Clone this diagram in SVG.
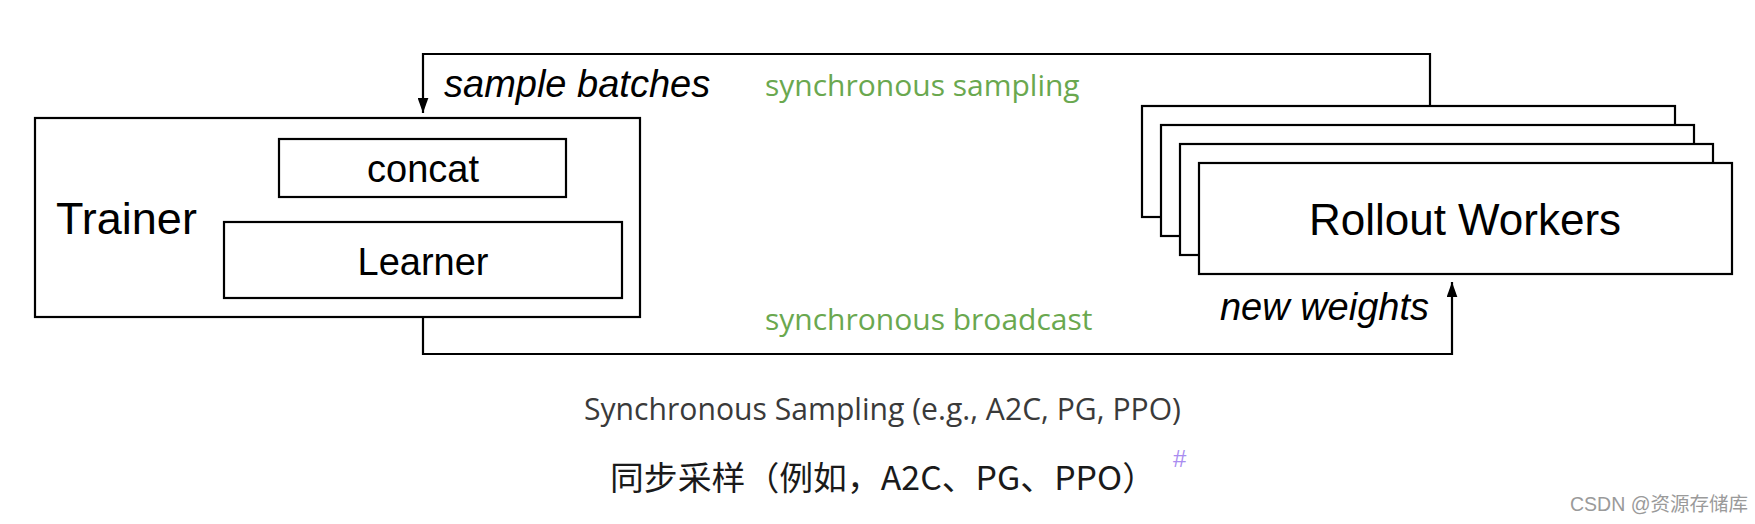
<svg xmlns="http://www.w3.org/2000/svg" width="1755" height="524" viewBox="0 0 1755 524">
<style>
.box{fill:#fff;stroke:#000;stroke-width:2.2}
.ln{fill:none;stroke:#000;stroke-width:2.2}
.lbl{font-family:"Liberation Sans",Arial,sans-serif;fill:#000}
.it{font-family:"Liberation Sans",Arial,sans-serif;font-style:italic;font-size:38px;fill:#000}
.grn{font-family:"Open Sans","Liberation Sans",sans-serif;font-size:30px;fill:#6aa84f}
</style>
<defs>
<marker id="ah2" viewBox="0 0 14 10" refX="14" refY="5" markerWidth="15" markerHeight="11" markerUnits="userSpaceOnUse" orient="auto">
<path d="M0,0 L14,5 L0,10 z" fill="#000"/>
</marker>
</defs>
<rect width="1755" height="524" fill="#fff"/>
<g id="connectors">
<path class="ln" d="M1430,106 V54 H423 V113" marker-end="url(#ah2)"/>
<path class="ln" d="M423,197 V222"/>
<path class="ln" d="M423,298 V354 H1452 V282" marker-end="url(#ah2)"/>
<text class="it" x="444" y="97">sample batches</text>
<text class="it" x="1429" y="320" text-anchor="end">new weights</text>
<text class="grn" x="765" y="96">synchronous sampling</text>
<text class="grn" x="765" y="330">synchronous broadcast</text>
</g>
<g id="trainer">
<rect class="box" x="35" y="118" width="605" height="199"/>
<text class="lbl" x="56" y="234" font-size="45">Trainer</text>
</g>
<g id="concat">
<rect class="box" x="279" y="139" width="287" height="58"/>
<text class="lbl" x="423" y="182" font-size="38" text-anchor="middle">concat</text>
</g>
<g id="learner">
<rect class="box" x="224" y="222" width="398" height="76"/>
<text class="lbl" x="423" y="275" font-size="38" text-anchor="middle">Learner</text>
</g>
<g id="rollout-workers">
<rect class="box" x="1142" y="106" width="533" height="111"/>
<rect class="box" x="1161" y="125" width="533" height="111"/>
<rect class="box" x="1180" y="144" width="533" height="111"/>
<rect class="box" x="1199" y="163" width="533" height="111"/>
<text class="lbl" x="1465" y="235" font-size="44" text-anchor="middle">Rollout Workers</text>
</g>
<g id="captions">
<text x="584" y="420" font-family="'Open Sans','Noto Sans',sans-serif" font-size="31" fill="#3a3a3a" textLength="597" lengthAdjust="spacingAndGlyphs">Synchronous Sampling (e.g., A2C, PG, PPO)</text>
<text x="610" y="490" font-family="'Noto Sans CJK SC',sans-serif" font-size="33" fill="#1a1a1a" textLength="546" lengthAdjust="spacingAndGlyphs">同步采样（例如，A2C、PG、PPO）</text>
<text x="1173" y="467" font-family="'Liberation Sans',sans-serif" font-size="24" fill="#a98cf0">#</text>
<text x="1570" y="511" font-family="'Liberation Sans','Noto Sans CJK SC',sans-serif" font-size="19.5" fill="#9a9a9a">CSDN @资源存储库</text>
</g>
</svg>
